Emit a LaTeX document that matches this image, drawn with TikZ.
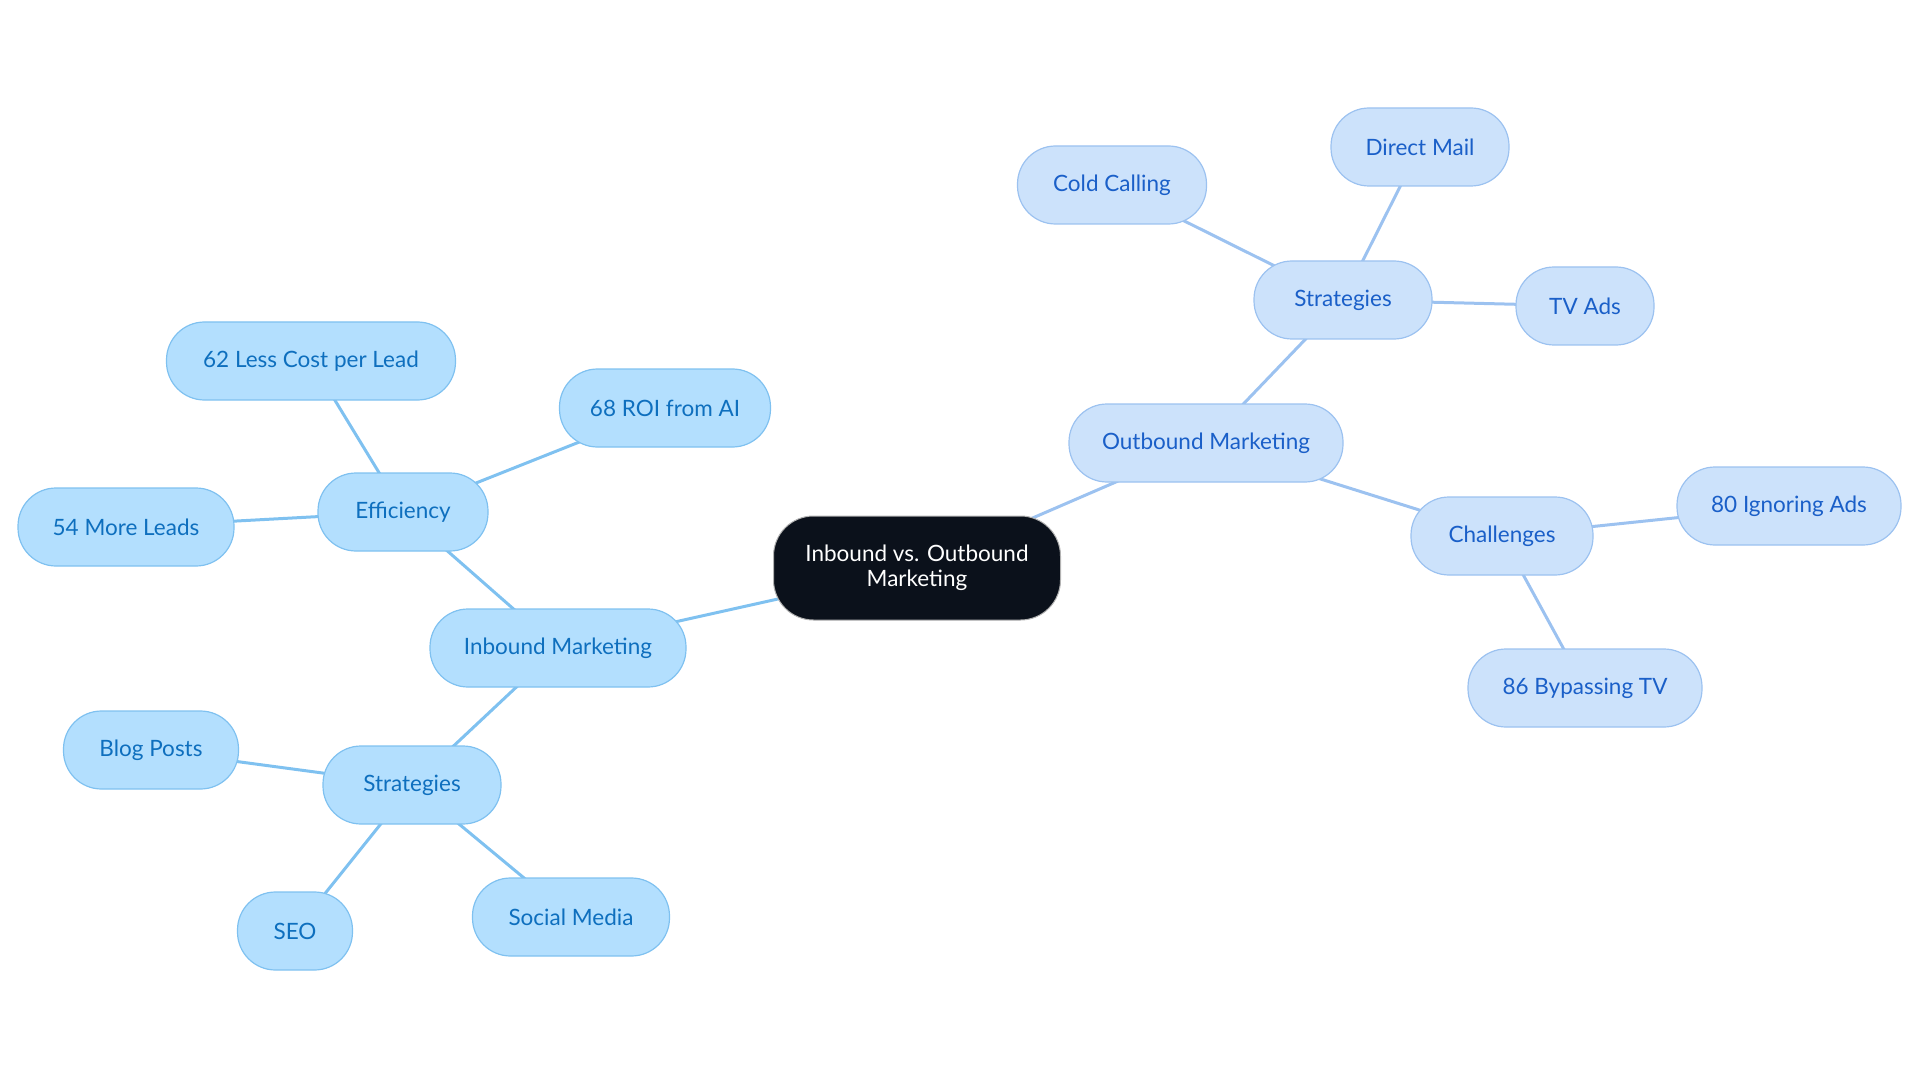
\documentclass[tikz,border=0pt]{standalone}
\usepackage{fontspec}
\setmainfont{Lato}
\usetikzlibrary{backgrounds}
\definecolor{infill}{HTML}{B3DFFE}
\definecolor{inborder}{HTML}{7FC1F0}
\definecolor{intext}{HTML}{0E6FBE}
\definecolor{outfill}{HTML}{CCE2FB}
\definecolor{outborder}{HTML}{9CC2F0}
\definecolor{outtext}{HTML}{1A5FC8}
\definecolor{rootfill}{HTML}{0B111B}
\tikzset{
  base/.style={rounded corners=38pt, minimum height=78pt, inner sep=0pt, font=\fontsize{22.5}{26}\selectfont, line width=1.2pt},
  inb/.style={base, fill=infill, draw=inborder, text=intext},
  outb/.style={base, fill=outfill, draw=outborder, text=outtext},
  rootb/.style={rounded corners=40pt, minimum height=104pt, minimum width=287pt, inner sep=0pt, fill=rootfill, draw=gray!60, line width=1pt, text=white, align=center, font=\fontsize{22.5}{24.5}\selectfont},
  inedge/.style={draw=inborder, line width=3pt},
  outedge/.style={draw=outborder, line width=3pt}
}
\begin{document}
\begin{tikzpicture}[x=1pt,y=-1pt]
\useasboundingbox (0,0) rectangle (1920,1083);
\node[rootb] (root) at (917,568) {Inbound vs. Outbound\\Marketing};
\node[inb, minimum width=256pt] (inm) at (558,648) {Inbound Marketing};
\node[inb, minimum width=170pt] (eff) at (403,512) {Efficiency};
\node[inb, minimum width=289pt] (lcost) at (311,361) {62 Less Cost per Lead};
\node[inb, minimum width=211pt] (roi) at (665,408) {68 ROI from AI};
\node[inb, minimum width=216pt] (leads) at (126,527) {54 More Leads};
\node[inb, minimum width=178pt] (istr) at (412,785) {Strategies};
\node[inb, minimum width=175pt] (blog) at (151,750) {Blog Posts};
\node[inb, minimum width=115pt] (seo) at (295,931) {SEO};
\node[inb, minimum width=197pt] (social) at (571,917) {Social Media};
\node[outb, minimum width=274pt] (outm) at (1206,443) {Outbound Marketing};
\node[outb, minimum width=178pt] (ostr) at (1343,300) {Strategies};
\node[outb, minimum width=189pt] (cold) at (1112,185) {Cold Calling};
\node[outb, minimum width=178pt] (mail) at (1420,147) {Direct Mail};
\node[outb, minimum width=138pt] (tv) at (1585,306) {TV Ads};
\node[outb, minimum width=182pt] (chal) at (1502,536) {Challenges};
\node[outb, minimum width=224pt] (ign) at (1789,506) {80 Ignoring Ads};
\node[outb, minimum width=234pt] (byp) at (1585,688) {86 Bypassing TV};
\begin{scope}[on background layer]
\draw[inedge] (root.center) -- (inm.center);
\draw[inedge] (inm.center) -- (eff.center);
\draw[inedge] (inm.center) -- (istr.center);
\draw[inedge] (eff.center) -- (lcost.center);
\draw[inedge] (eff.center) -- (roi.center);
\draw[inedge] (eff.center) -- (leads.center);
\draw[inedge] (istr.center) -- (blog.center);
\draw[inedge] (istr.center) -- (seo.center);
\draw[inedge] (istr.center) -- (social.center);
\draw[outedge] (root.center) -- (outm.center);
\draw[outedge] (outm.center) -- (ostr.center);
\draw[outedge] (outm.center) -- (chal.center);
\draw[outedge] (ostr.center) -- (cold.center);
\draw[outedge] (ostr.center) -- (mail.center);
\draw[outedge] (ostr.center) -- (tv.center);
\draw[outedge] (chal.center) -- (ign.center);
\draw[outedge] (chal.center) -- (byp.center);
\end{scope}
\end{tikzpicture}
\end{document}
